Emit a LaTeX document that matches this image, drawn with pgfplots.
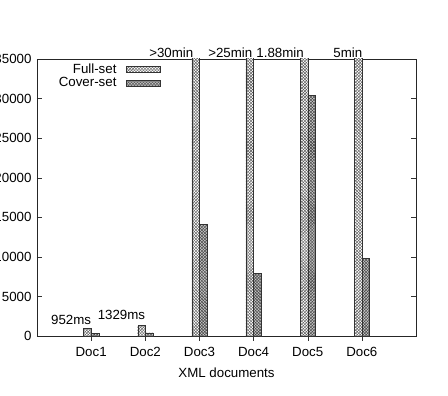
\documentclass[border=0pt]{standalone}
\usepackage{pgfplots}
\pgfplotsset{compat=1.18}
\usepackage{fontspec}
\setmainfont{Liberation Sans}
\usetikzlibrary{patterns}
\begin{document}
\begin{tikzpicture}[font=\fontsize{13.3bp}{15bp}\selectfont]
\begin{axis}[
  at={(0,0)}, anchor=south west,
  scale only axis, width=379bp, height=277bp,
  xmin=0, xmax=7, ymin=0, ymax=35000,
  xtick={1,2,3,4,5,6}, xticklabels={Doc1,Doc2,Doc3,Doc4,Doc5,Doc6},
  ytick={0,5000,10000,15000,20000,25000,30000,35000},
  scaled y ticks=false,
  /pgf/number format/assume math mode=true,
  yticklabel style={/pgf/number format/set thousands separator={}, xshift=-2bp},
  xticklabel style={yshift=-3bp},
  tick align=inside, major tick length=5bp,
  xtick pos=bottom,
  tick style={black!80, thin},
  axis line style={black!85, thin},
  xlabel={XML documents},
  xlabel style={yshift=-4bp},
  ybar, bar width=0.14,
  clip mode=individual,
  legend plot pos=right,
  legend cell align=right,
  legend image code/.code={\path (0bp,0bp); \draw[#1] (8bp,-3bp) rectangle (42bp,3bp);},
  legend style={draw=none, fill=none, at={(0.33,0.995)}, anchor=north east, row sep=-1bp, inner sep=1bp},
]
\addplot[draw=black!80, fill=white, postaction={pattern=crosshatch, pattern color=black!65}, bar shift=-0.07]
  coordinates {(1,952) (2,1329) (3,100000) (4,100000) (5,112800) (6,300000)};
\addlegendentry{Full-set}
\addplot[draw=black!80, fill=gray!45, postaction={pattern=crosshatch, pattern color=black!75}, bar shift=0.07]
  coordinates {(1,350) (2,400) (3,14140) (4,7960) (5,30450) (6,9855)};
\addlegendentry{Cover-set}
\node[anchor=base] at (axis cs:0.63,1516) {952ms};
\node[anchor=base] at (axis cs:1.56,2022) {1329ms};
\node[anchor=base, yshift=2bp] at (axis cs:2.48,35000) {>30min};
\node[anchor=base, yshift=2bp] at (axis cs:3.57,35000) {>25min};
\node[anchor=base, yshift=2bp] at (axis cs:4.49,35000) {1.88min};
\node[anchor=base, yshift=2bp] at (axis cs:5.74,35000) {5min};
\end{axis}
\pgfresetboundingbox
\path[use as bounding box] (-37bp,-60bp) rectangle (411bp,336bp);
\end{tikzpicture}
\end{document}
